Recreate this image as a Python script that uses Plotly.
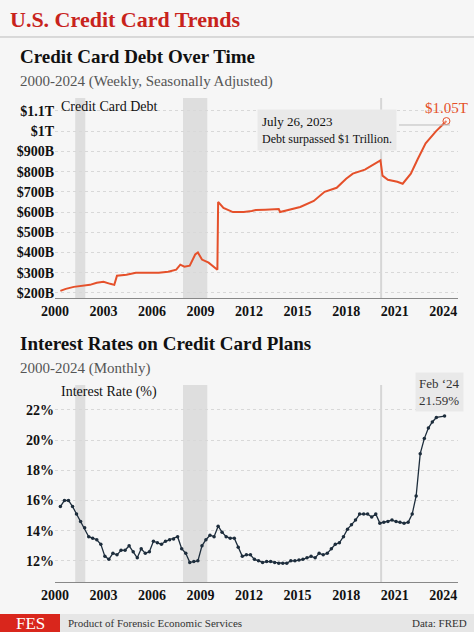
import pandas as pd
import plotly.graph_objects as go

# Credit card debt, $B (anchor points)
debt_dates = ["2000-05-01", "2000-09-01", "2001-03-01", "2001-09-01", "2002-03-01", "2002-08-01",
              "2003-01-01", "2003-06-01", "2003-09-01", "2003-11-01", "2004-06-01", "2005-01-01",
              "2005-09-01", "2006-06-01", "2007-01-01", "2007-07-01", "2007-10-01", "2008-01-01",
              "2008-05-01", "2008-09-01", "2008-11-01", "2009-02-01", "2009-07-01", "2009-11-01",
              "2010-01-15", "2010-02-01", "2010-06-01", "2011-01-01", "2011-09-01", "2012-03-01",
              "2012-06-01", "2013-01-01", "2013-11-01", "2013-12-01", "2014-06-01", "2015-03-01",
              "2016-01-01", "2016-09-01", "2017-06-01", "2017-10-01", "2018-01-01", "2018-06-01",
              "2019-03-01", "2020-02-15", "2020-04-01", "2020-08-01", "2021-03-01", "2021-07-01",
              "2022-01-01", "2022-06-01", "2022-12-01", "2023-07-26", "2024-03-15"]
debt = [210, 220, 230, 235, 240, 250, 255, 245, 240, 285, 290, 300,
        300, 300, 305, 315, 340, 330, 335, 390, 400, 365, 350, 330,
        315, 650, 620, 600, 600, 605, 610, 612, 615, 600, 610, 625,
        655, 700, 720, 745, 765, 790, 810, 855, 780, 760, 750, 740,
        790, 860, 940, 1000, 1050]

# Interest rates on credit card plans, % (quarterly-ish points)
rate = [15.6, 16.0, 16.0, 15.6, 15.1, 14.6, 14.2, 13.6, 13.5, 13.4, 13.1, 12.3,
        12.1, 12.5, 12.4, 12.7, 12.7, 13.0, 12.6, 12.2, 12.8, 12.5, 12.6, 13.3,
        13.2, 13.1, 13.3, 13.4, 13.45, 13.6, 12.8, 12.5, 11.9, 11.95, 12.0, 13.0,
        13.4, 13.7, 13.6, 14.3, 13.9, 13.6, 13.5, 13.5, 12.9, 12.3, 12.4, 12.4,
        12.1, 12.0, 11.9, 11.95, 11.95, 11.9, 11.85, 11.85, 11.85, 12.0, 12.0, 12.05,
        12.1, 12.2, 12.3, 12.2, 12.5, 12.4, 12.5, 12.8, 13.1, 13.2, 13.6, 14.1,
        14.4, 14.7, 15.1, 15.1, 15.1, 14.9, 15.1, 14.5, 14.55, 14.6, 14.7, 14.6,
        14.55, 14.5, 14.55, 15.1, 16.3, 19.1, 20.1, 20.8, 21.2, 21.5, 21.59]
rate_dates = pd.date_range("2000-05-01", periods=len(rate) - 1, freq="3MS").tolist() + [pd.Timestamp("2024-02-01")]

debt_ticks = [200, 300, 400, 500, 600, 700, 800, 900, 1000, 1100]
debt_labels = ["$200B", "$300B", "$400B", "$500B", "$600B", "$700B", "$800B", "$900B", "$1T", "$1.1T"]
rate_ticks = [12, 14, 16, 18, 20, 22]
rate_labels = ["12%", "14%", "16%", "18%", "20%", "22%"]
year_ticks = [f"{y}-01-01" for y in range(2000, 2025, 3)]
year_labels = [f"<b>{y}</b>" for y in range(2000, 2025, 3)]

recessions = [("2001-04-01", "2001-11-15"), ("2007-12-01", "2009-06-01")]
covid = "2020-03-01"

RED = "#e5502a"
NAVY = "#1d2d3c"
SERIF = "Liberation Serif"
W, H = 474, 632

def px(x): return x / W
def py(y): return 1 - y / H

fig = go.Figure()
fig.add_trace(go.Scatter(x=debt_dates, y=debt, mode="lines", line=dict(color=RED, width=2),
                         xaxis="x", yaxis="y", hoverinfo="skip"))
fig.add_trace(go.Scatter(x=[debt_dates[-1]], y=[debt[-1]], mode="markers",
                         marker=dict(size=7, color="rgba(255,255,255,0.3)", line=dict(color=RED, width=1)),
                         xaxis="x", yaxis="y"))
fig.add_trace(go.Scatter(x=rate_dates, y=rate, mode="lines+markers", line=dict(color=NAVY, width=1.3),
                         marker=dict(size=3.5, color=NAVY), xaxis="x2", yaxis="y2"))

axis_x = dict(range=["2000-01-01", "2024-12-01"], type="date", tickvals=year_ticks, ticktext=year_labels,
              showgrid=False, showline=True, linecolor="#888", ticks="", zeroline=False,
              tickfont=dict(family=SERIF, size=14, color="#111"))
axis_y = dict(gridcolor="#d8d8d8", griddash="dot", zeroline=False, showline=False,
              tickfont=dict(family=SERIF, size=14, color="#111"))
fig.update_layout(
    width=W, height=H, showlegend=False,
    paper_bgcolor="#f6f6f6", plot_bgcolor="#f6f6f6",
    margin=dict(l=0, r=0, t=0, b=0, autoexpand=False),
    font=dict(family=SERIF, color="#111"),
    xaxis=dict(axis_x, domain=[px(55), px(458)], anchor="y"),
    yaxis=dict(axis_y, domain=[py(298), py(98)], range=[175, 1164], tickvals=debt_ticks,
               ticktext=[f"<b>{t}</b>" for t in debt_labels]),
    xaxis2=dict(axis_x, domain=[px(55), px(458)], anchor="y2"),
    yaxis2=dict(axis_y, domain=[py(582), py(385)], range=[10.6, 23.65], tickvals=rate_ticks,
                ticktext=[f"<b>{t}</b>" for t in rate_labels]),
)

for xr, yr in (("x", "y"), ("x2", "y2")):
    for a, b in recessions:
        fig.add_shape(type="rect", xref=xr, yref=f"{yr} domain", x0=a, x1=b, y0=0, y1=1,
                      fillcolor="#dedede", line_width=0, layer="below")
    fig.add_shape(type="line", xref=xr, yref=f"{yr} domain", x0=covid, x1=covid, y0=0, y1=1,
                  line=dict(color="#d6d6d6", width=2), layer="below")

def note(x, y, text, size, color="#111", xanchor="left", **kw):
    fig.add_annotation(xref="paper", yref="paper", x=px(x), y=py(y), text=text, showarrow=False,
                       xanchor=xanchor, yanchor="middle", font=dict(family=SERIF, size=size, color=color), **kw)

# header
note(8, 20, "<b>U.S. Credit Card Trends</b>", 22, "#c8231c")
fig.add_shape(type="line", xref="paper", yref="paper", x0=0, x1=1, y0=py(37), y1=py(37),
              line=dict(color="#bbb", width=1))
note(18, 56, "<b>Credit Card Debt Over Time</b>", 19)
note(18, 81, "2000-2024 (Weekly, Seasonally Adjusted)", 15, "#555")
note(18, 343, "<b>Interest Rates on Credit Card Plans</b>", 19)
note(18, 368, "2000-2024 (Monthly)", 15, "#555")

# in-plot labels
note(59, 106, "Credit Card Debt", 14)
note(59, 392, "Interest Rate (%)", 14)
note(470, 108, "$1.05T", 15, RED, xanchor="right")
fig.add_shape(type="line", xref="paper", yref="paper", x0=px(399), x1=px(450), y0=py(125), y1=py(125),
              line=dict(color="#bbb", width=1))
note(257, 130, "July 26, 2023<br><span style='font-size:12px'>Debt surpassed $1 Trillion.</span>", 13,
     align="left", bgcolor="#e9e9e9", borderpad=4)
note(464, 392, "Feb ‘24<br>21.59%", 13, "#333", xanchor="right", align="right", bgcolor="#e9e9e9", borderpad=3)

# footer
fig.add_shape(type="rect", xref="paper", yref="paper", x0=0, x1=1, y0=0, y1=py(614),
              fillcolor="#e6e6e6", line_width=0)
fig.add_shape(type="rect", xref="paper", yref="paper", x0=0, x1=px(60), y0=0, y1=py(614),
              fillcolor="#d9261c", line_width=0)
note(30, 623, "FES", 17, "white", xanchor="center")
note(66, 623, "Product of Forensic Economic Services", 11, "#333")
note(469, 623, "Data: FRED", 11, "#333", xanchor="right")

fig.write_html("out.html", config={"displayModeBar": False}, post_script="document.body.style.margin='0';")
